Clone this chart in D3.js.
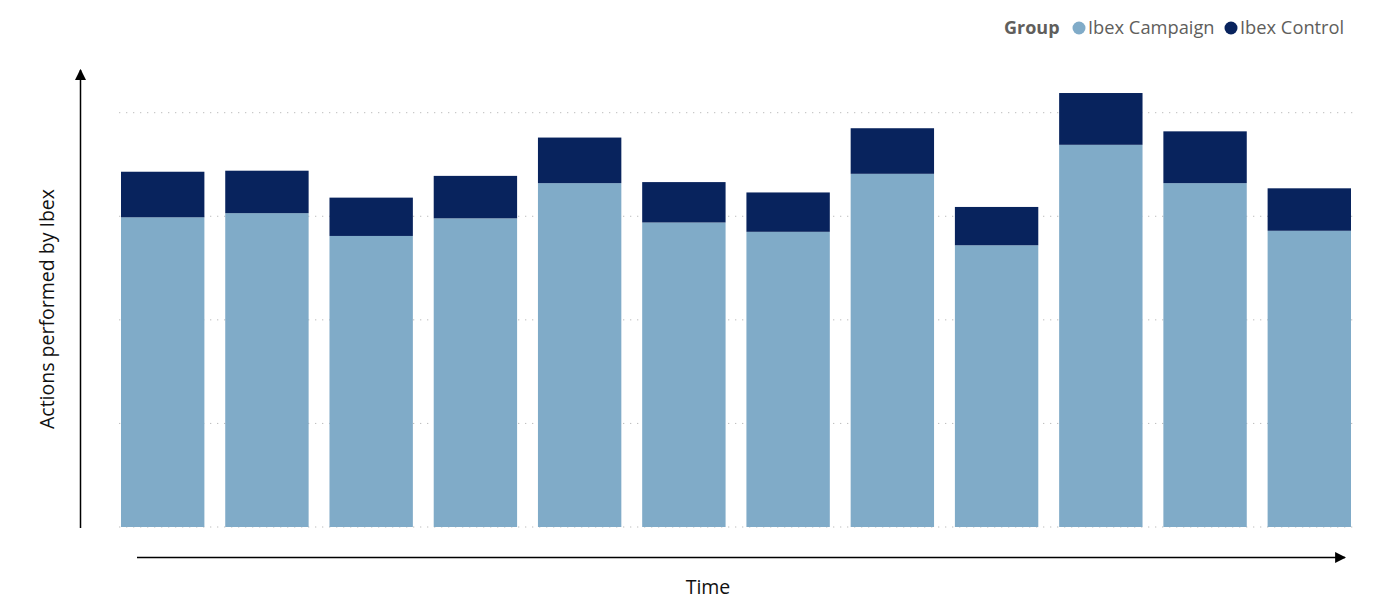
<!DOCTYPE html>
<html>
<head>
<meta charset="utf-8">
<script src="https://cdn.jsdelivr.net/npm/d3@7/dist/d3.min.js"></script>
<style>
  html, body { margin: 0; padding: 0; background: #fff; }
  svg { display: block; font-family: "Open Sans", "Noto Sans", sans-serif; }
</style>
</head>
<body>
<svg id="chart" width="1379" height="615"></svg>
<script>
// ── Data ───────────────────────────────────────────────────────────────────
const periods  = ['P1', 'P2', 'P3', 'P4', 'P5', 'P6', 'P7', 'P8', 'P9', 'P10', 'P11', 'P12'];
const campaign = [299, 303, 281, 298, 332, 294, 285, 341, 272, 369, 332, 286];
const control  = [44, 41, 37, 41, 44, 39, 38, 44, 37, 50, 50, 41];
const gridTicks = [0, 100, 200, 300, 400];
const seriesNames = ['Ibex Campaign', 'Ibex Control'];
const seriesColors = ['#80abc8', '#08235d'];

(function () {
  'use strict';

  const svg = d3.select('#chart');
  const plot = { left: 121, right: 1351, top: 112.7, bottom: 527 };

  const x = d3.scaleBand().domain(periods)
    .range([plot.left, plot.right]).paddingInner(0.2).paddingOuter(0);
  const y = d3.scaleLinear().domain([0, 400]).range([plot.bottom, plot.top]);

  // ── Gridlines ────────────────────────────────────────────────────────────
  svg.append('g').selectAll('line').data(gridTicks).join('line')
    .attr('x1', plot.left - 2).attr('x2', plot.right + 2)
    .attr('y1', d => y(d)).attr('y2', d => y(d))
    .attr('stroke', '#bdbdbd').attr('stroke-width', 1)
    .attr('stroke-dasharray', '1.3,5.7');

  // ── Stacked bars ─────────────────────────────────────────────────────────
  const rows = periods.map((p, i) => ({ period: p, campaign: campaign[i], control: control[i] }));
  const stack = d3.stack().keys(['campaign', 'control'])(rows);

  svg.append('g').selectAll('g').data(stack).join('g')
    .attr('fill', (d, i) => seriesColors[i])
    .selectAll('rect').data(d => d).join('rect')
    .attr('x', d => x(d.data.period))
    .attr('width', x.bandwidth())
    .attr('y', d => y(d[1]))
    .attr('height', d => y(d[0]) - y(d[1]));

  // ── Axis arrows ──────────────────────────────────────────────────────────
  const defs = svg.append('defs');
  defs.append('marker').attr('id', 'arrow')
    .attr('viewBox', '0 0 10 10').attr('refX', 9).attr('refY', 5)
    .attr('markerWidth', 11).attr('markerHeight', 11)
    .attr('markerUnits', 'userSpaceOnUse').attr('orient', 'auto')
    .append('path').attr('d', 'M0,0L10,5L0,10Z').attr('fill', '#000');

  svg.append('line')
    .attr('x1', 80.5).attr('y1', 528).attr('x2', 80.5).attr('y2', 70)
    .attr('stroke', '#000').attr('stroke-width', 1.5).attr('marker-end', 'url(#arrow)');
  svg.append('line')
    .attr('x1', 137).attr('y1', 557.5).attr('x2', 1345).attr('y2', 557.5)
    .attr('stroke', '#000').attr('stroke-width', 1.5).attr('marker-end', 'url(#arrow)');

  // ── Axis titles ──────────────────────────────────────────────────────────
  svg.append('text')
    .attr('transform', 'translate(54,309) rotate(-90)')
    .attr('text-anchor', 'middle')
    .attr('font-size', 19.5).attr('fill', '#111')
    .text('Actions performed by Ibex');
  svg.append('text')
    .attr('x', 708).attr('y', 594)
    .attr('text-anchor', 'middle')
    .attr('font-size', 19.5).attr('fill', '#111')
    .text('Time');

  // ── Legend ───────────────────────────────────────────────────────────────
  const legend = svg.append('g').attr('transform', 'translate(1004,34)');
  legend.append('text').attr('x', 0).attr('y', 0)
    .attr('font-size', 18).attr('font-weight', 700).attr('fill', '#605e5c')
    .text('Group');
  const itemX = [75, 227];
  seriesNames.forEach((name, i) => {
    legend.append('circle').attr('cx', itemX[i]).attr('cy', -6).attr('r', 6.5)
      .attr('fill', seriesColors[i]);
    legend.append('text').attr('x', itemX[i] + 9).attr('y', 0)
      .attr('font-size', 18.3).attr('fill', '#605e5c')
      .text(name);
  });
})();
</script>
</body>
</html>
